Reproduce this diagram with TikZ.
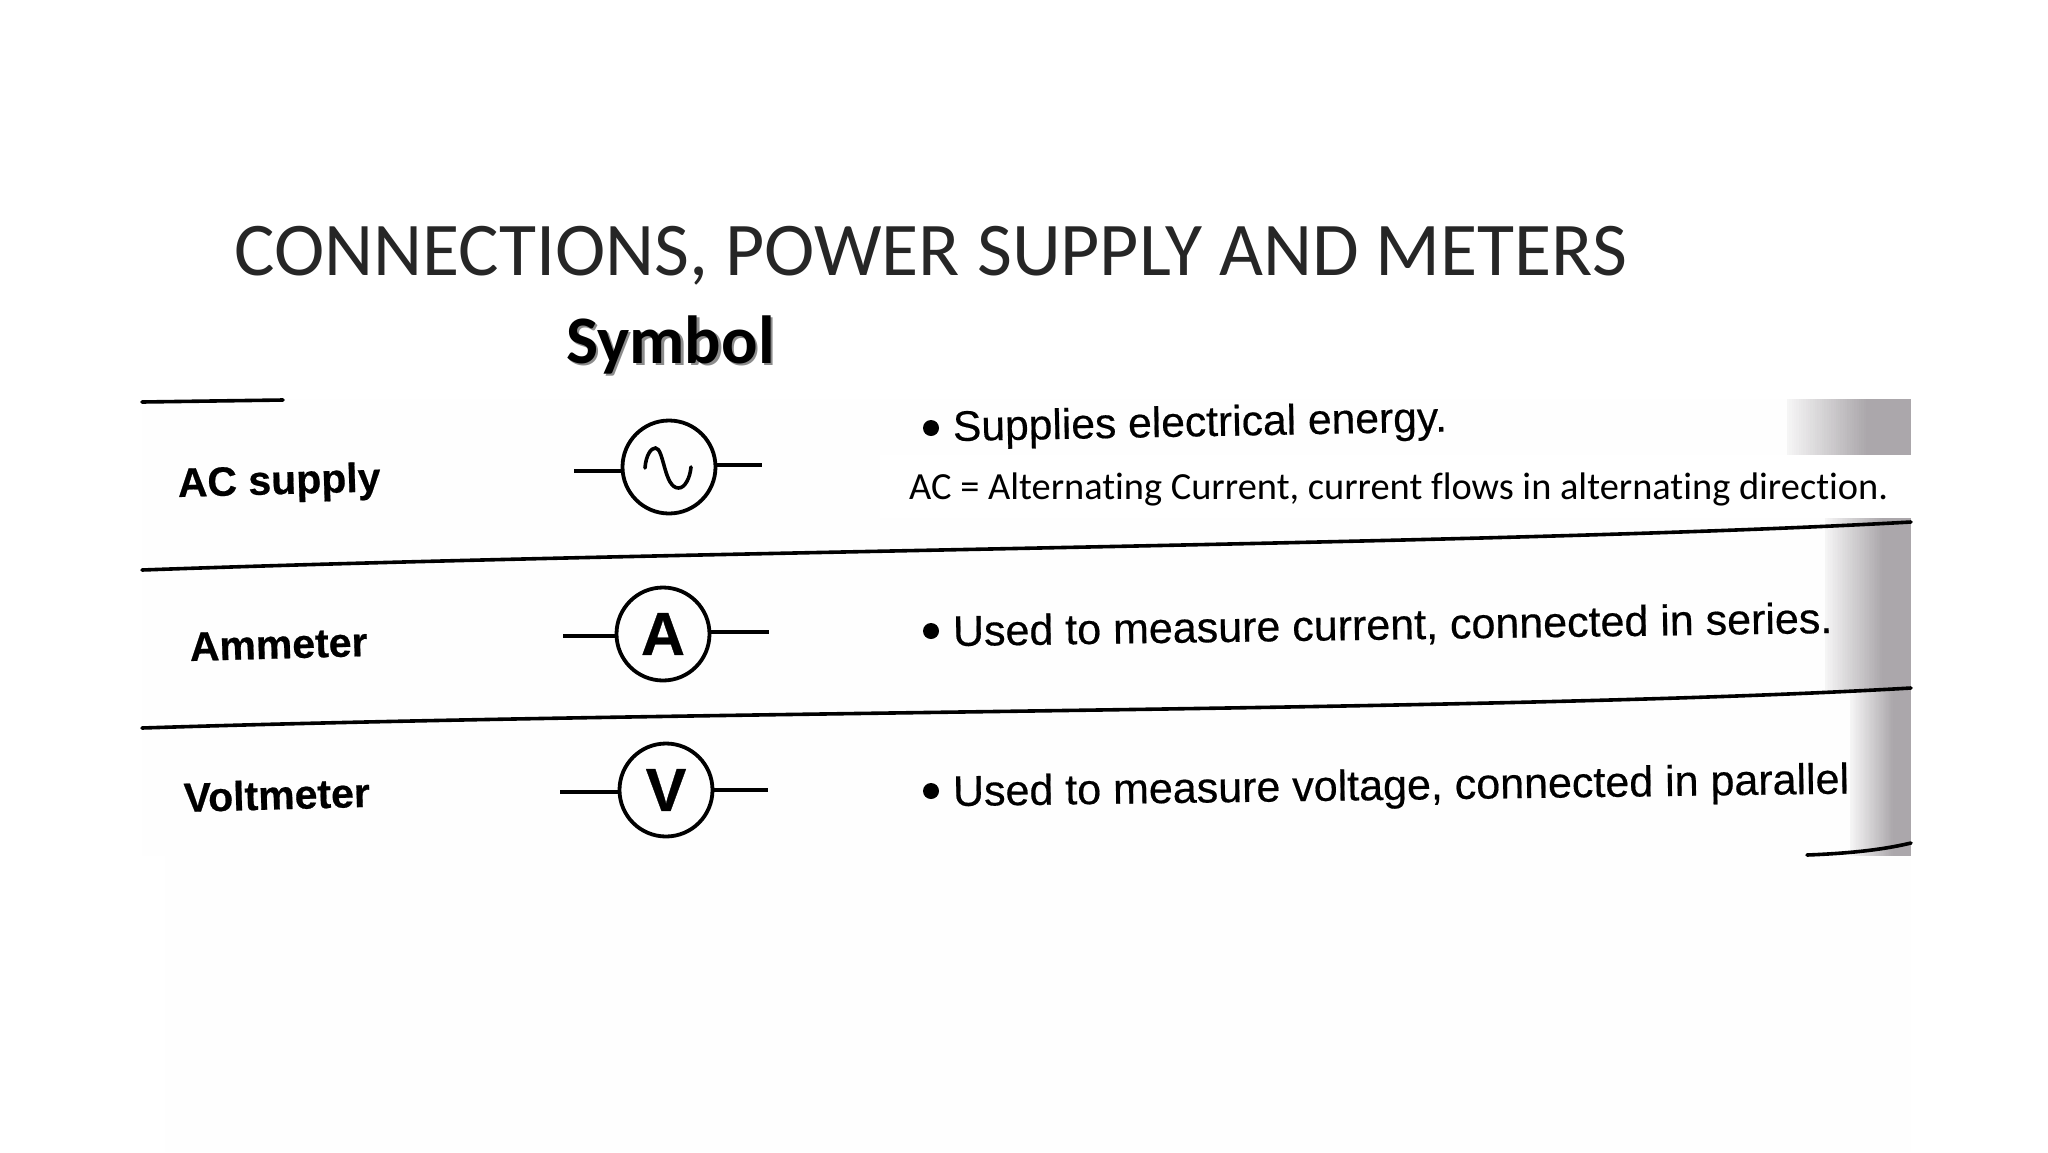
\documentclass[tikz,border=0pt]{standalone}
\usepackage{fontspec}
\setmainfont{Liberation Sans}
\newfontfamily\calibfont[Ligatures=NoCommon]{Carlito}
\newfontfamily\printfont[FakeBold=0.4]{Liberation Sans}
\newfontfamily\printbold[FakeBold=0.5]{Liberation Sans Bold}
\definecolor{paper}{HTML}{FEFEFE}
\definecolor{shadegrey}{HTML}{ABA7AB}
\newcommand{\gradband}[4]{% x0 x1 y0 y1
  \foreach \i in {0,...,39}{
    \pgfmathsetmacro{\pct}{100*min(1,(\i+4)/38)}
    \pgfmathsetmacro{\xa}{#1+(#2-#1)*\i/40}
    \pgfmathsetmacro{\xb}{#1+(#2-#1)*(\i+1)/40+0.6}
    \fill[shadegrey!\pct!paper] (\xa,#3) rectangle (\xb,#4);
  }
}
\tikzset{
  rule/.style={draw=black,line width=3.6pt,line cap=round},
  lead/.style={draw=black,line width=4.4pt},
  meter/.style={circle,draw=black,line width=3.8pt,minimum size=93pt,inner sep=0pt,font=\printbold\fontsize{61}{61}\selectfont},
  rowlabel/.style={font=\printbold\fontsize{41}{41}\selectfont,anchor=base west,inner sep=0pt,rotate=1.6,text=black},
  desc/.style={font=\printfont\fontsize{43}{43}\selectfont,anchor=base west,inner sep=0pt,text=black},
  dot/.style={circle,fill=black,minimum size=16pt,inner sep=0pt}
}
\begin{document}
\begin{tikzpicture}[x=1pt,y=-1pt]
\useasboundingbox (0,0) rectangle (2048,1152);
\fill[white] (0,0) rectangle (2048,1152);
\fill[paper] (165,856) rectangle (1911,1152);
\fill[paper] (142,399) rectangle (1911,856);
\gradband{1787}{1880}{399}{455}
\fill[shadegrey] (1878,399) rectangle (1911,455);
\gradband{1825}{1892}{518}{690}
\fill[shadegrey] (1890,518) rectangle (1911,690);
\gradband{1850}{1900}{690}{856}
\fill[shadegrey] (1898,690) rectangle (1911,856);
\fill[white] (880,455) rectangle (1911,518);
% rules
\draw[rule] (142,402) -- (283,400);
\draw[rule] (142,570) .. controls (700,550) and (1500,545) .. (1911,522);
\draw[rule] (142,728) .. controls (700,710) and (1500,712) .. (1911,688);
\draw[rule] (1807,855) .. controls (1860,853) and (1890,848) .. (1911,843);
% title
\node[font=\calibfont\fontsize{75.9}{76}\selectfont,anchor=base west,inner sep=0pt,text=black!85] (title) at (234,275) {CONNECTIONS, POWER SUPPLY AND METERS};
\node[font=\calibfont\bfseries\fontsize{68}{68}\selectfont,anchor=base west,inner sep=0pt,text=black!45] (symS) at (568.5,365.5) {Symbol};
\node[font=\calibfont\bfseries\fontsize{68}{68}\selectfont,anchor=base west,inner sep=0pt] (sym) at (566,363) {Symbol};
% row labels
\node[rowlabel] (l1) at (178,497) {AC supply};
\node[rowlabel] (l2) at (190,661) {Ammeter};
\node[rowlabel] (l3) at (184,812) {Voltmeter};
% meters
\node[meter] (ac) at (669,467) {};
\node[meter] (am) at (663,634) {A};
\node[meter] (vm) at (666,790) {V};
\coordinate (acL) at (574,471); \coordinate (acR) at (762,465);
\coordinate (amL) at (563,636); \coordinate (amR) at (769,632);
\coordinate (vmL) at (560,792); \coordinate (vmR) at (768,790);
\draw[lead] (acL) -- (ac.west |- acL);
\draw[lead] (ac.east |- acR) -- (acR);
\draw[lead] (amL) -- (am.west |- amL);
\draw[lead] (am.east |- amR) -- (amR);
\draw[lead] (vmL) -- (vm.west |- vmL);
\draw[lead] (vm.east |- vmR) -- (vmR);
\draw[black,line width=3.6pt,line cap=round] (645,468) .. controls (646,455) and (651,448) .. (655.5,448) .. controls (664,448) and (664,488) .. (678.5,488) .. controls (685,488) and (690,478) .. (691,467);
% descriptions
\node[dot] (b1) at (931,428) {};
\node[desc,font=\printfont\fontsize{42.6}{43}\selectfont,rotate=1.1] (d1) at (953,441) {Supplies electrical energy.};
\node[dot] (b2) at (931,631) {};
\node[desc,rotate=0.85] (d2) at (953,646) {Used to measure current, connected in series.};
\node[dot] (b3) at (931,791) {};
\node[desc,rotate=0.8] (d3) at (953,806) {Used to measure voltage, connected in parallel};
\node[font=\calibfont\fontsize{38.4}{38}\selectfont,anchor=base west,inner sep=0pt] (ac2) at (909,499) {AC = Alternating Current, current flows in alternating direction.};
\end{tikzpicture}
\end{document}
